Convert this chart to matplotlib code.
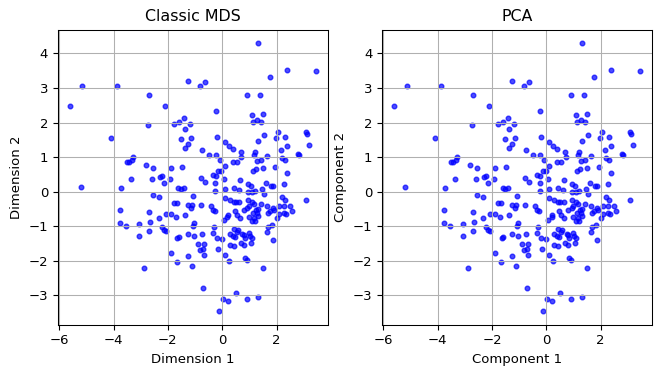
import numpy as np
import matplotlib
matplotlib.use("Agg")
import matplotlib.pyplot as plt

# Embedding coordinates (MDS and PCA give the same layout)
dim1 = [
    -5.15, -3.87, -5.60, -4.10, -3.51, -3.43, -3.34, -3.28, -2.81, -3.36,
    -1.26, -0.82, -0.63, -2.69, -2.10, -0.23, -2.73, -1.77, -1.59, -1.40,
    -1.18, -1.37, -2.54, -1.90, -2.58, -2.29, -2.22, -1.94,
    1.32, 2.38, 3.45, 1.76, 0.91, 1.39, 1.10, 1.50, 1.13, 1.28, 1.43,
    -1.51, -1.15, -1.26, -1.37, -0.74, -0.49, -0.23, -0.19, -0.08, 0.10,
    0.26, 0.40, 0.69, 0.71, 0.40, 0.54, 0.09, -1.48, -0.34, -0.24, -0.14,
    -0.03, 0.07, -0.79, -0.63, -0.25, 0.65, 0.94, 1.05, -1.40, -1.07,
    -0.25, 0.10, 0.43, 0.62, 0.96,
    1.54, 1.32, 1.98, 2.05, 2.31, 3.08, 3.12, 3.19, 2.38, 2.16,
    1.19, 1.17, 1.65, 1.28, 1.43, 2.20, 2.31, 2.79, 2.82, 1.94,
    1.51, 1.24, 1.13, 2.38, 1.61, 1.80, 1.88, 2.27, 1.46, 1.21,
    1.10, 1.54, 2.20,
    -1.37, -1.26, -1.11, -1.15, -0.78, -0.41, -0.34, -0.26, -1.04, -1.07,
    -0.30, -1.26, -1.04, -0.74, -0.34, -0.19, -0.01, -0.89, -0.67, -0.82,
    -0.71, -1.26, -0.67, 0.29, 0.43, 0.51, 0.63, 0.94, 0.10, 0.07,
    0.19, 0.21, 0.47, 0.53, 0.65, 0.80, 0.93, 0.99, 0.99, 0.43,
    0.54, 0.58, 0.29, 0.40, 0.47, 0.74, 0.80, 0.84, 0.99, 1.02,
    0.29, 0.43, 0.69, 0.80, 0.10, -0.15,
    2.31, 3.08, 1.10, 1.17, 1.43, 1.65, 1.87, 1.90, 2.09, 2.26,
    2.49, 2.57, 2.27, 2.35, 2.09, 2.01, 1.68, 1.76, 1.24, 1.32,
    1.13, 1.28, 1.17, 1.32, 1.10, 1.21, 1.83, 1.68, 1.65, 1.10,
    1.87, 1.05,
    0.84, 0.91, 1.50, 0.51, 0.91, 1.32,
    -2.16, -1.61, -1.51, -2.54, -2.32, -1.77, -1.66, -2.69, -2.07, -1.88,
    -1.70, -2.32, -2.65, -2.21, -2.14, -2.07, -2.69, -1.65, -1.59, -1.88,
    -1.66, -1.11, -2.88, -0.71, 0.03, 0.21, -0.12, 0.26,
    -5.19, -3.72, -3.76, -3.76, -3.54, -3.06, -3.06,
]
dim2 = [
    3.05, 3.05, 2.47, 1.55, 0.86, 0.87, 0.91, 1.01, 0.76, 0.37,
    3.19, 3.05, 3.16, 2.79, 2.47, 2.33, 1.94, 1.97, 2.01, 2.13,
    1.97, 1.81, 0.68, 0.68, 0.37, 0.43, 0.46, 0.37,
    4.30, 3.51, 3.49, 3.31, 2.79, 2.79, 2.21, 2.24, 2.01, 2.07, 2.01,
    1.52, 1.55, 1.38, 1.26, 1.20, 1.07, 1.07, 1.59, 0.92, 1.43,
    1.32, 1.23, 1.15, 1.01, 0.87, 0.87, 0.75, 0.72, 0.49, 0.44, 0.59,
    0.61, 0.37, 0.40, 0.29, 0.26, 0.34, 0.21, 0.16, 0.11, -0.11,
    0.02, 0.09, 0.12, 0.04, 0.00,
    1.64, 1.46, 1.55, 1.73, 1.58, 1.73, 1.66, 1.35, 1.32, 1.20,
    1.15, 1.06, 1.03, 0.89, 0.91, 0.97, 0.91, 1.10, 1.07, 0.71,
    0.68, 0.65, 0.60, 0.54, 0.25, 0.16, 0.16, 0.22, 0.08, 0.02,
    -0.01, -0.07, -0.14,
    -0.67, -0.38, -0.38, -0.47, -0.38, -0.41, -0.53, -0.56, -0.90, -0.99,
    -1.02, -1.22, -1.29, -1.22, -1.19, -1.34, -1.36, -1.51, -1.51, -1.68,
    -1.65, -1.85, -1.83, -0.24, -0.30, -0.30, -0.30, -0.24, -0.18, -0.82,
    -0.73, -0.67, -0.56, -0.67, -0.76, -0.53, -0.47, -0.41, -0.73, -1.08,
    -1.16, -1.10, -1.22, -1.28, -1.32, -1.22, -1.25, -1.34, -1.19, -1.28,
    -1.54, -1.57, -1.48, -1.54, -1.83, -1.65,
    -0.24, -0.24, -0.30, -0.35, -0.35, -0.41, -0.47, -0.53, -0.41, -0.41,
    -0.41, -0.56, -0.61, -0.64, -0.64, -0.76, -0.61, -0.56, -0.53, -0.50,
    -0.61, -0.61, -0.76, -0.70, -0.85, -0.85, -0.96, -1.02, -1.16, -1.34,
    -1.39, -1.48,
    -1.92, -1.98, -2.20, -2.92, -3.09, -3.04,
    0.25, 0.11, 0.08, -0.10, -0.15, -0.33, -0.33, -0.59, -0.64, -0.64,
    -0.73, -0.76, -0.87, -1.02, -1.10, -1.13, -1.13, -1.34, -1.31, -1.77,
    -2.03, -2.14, -2.20, -2.78, -3.09, -3.15, -3.46, -2.00,
    0.14, 0.11, -0.53, -0.90, -0.99, -0.93, -1.28,
]

titles = ["Classic MDS", "PCA"]
xlabels = ["Dimension 1", "Component 1"]
ylabels = ["Dimension 2", "Component 2"]

x = np.array(dim1)
y = np.array(dim2)

# original was rendered a bit smaller than 100 dpi, so shrink text a touch
plt.rcParams["font.size"] = 9.5
plt.rcParams["axes.titlesize"] = 11.4
plt.rcParams["axes.linewidth"] = 0.76
plt.rcParams["grid.linewidth"] = 0.76

fig = plt.figure(figsize=(6.61, 3.75), dpi=100)
ax1 = fig.add_axes([0.0875, 0.134, 0.409, 0.787])
ax2 = fig.add_axes([0.578, 0.134, 0.409, 0.787])

for ax, title, xl, yl in zip([ax1, ax2], titles, xlabels, ylabels):
    ax.scatter(x, y, s=11, c="blue", alpha=0.7)
    ax.set_title(title)
    ax.set_xlabel(xl)
    ax.set_ylabel(yl)
    ax.grid(True)

fig.savefig("out.png", dpi=100)
